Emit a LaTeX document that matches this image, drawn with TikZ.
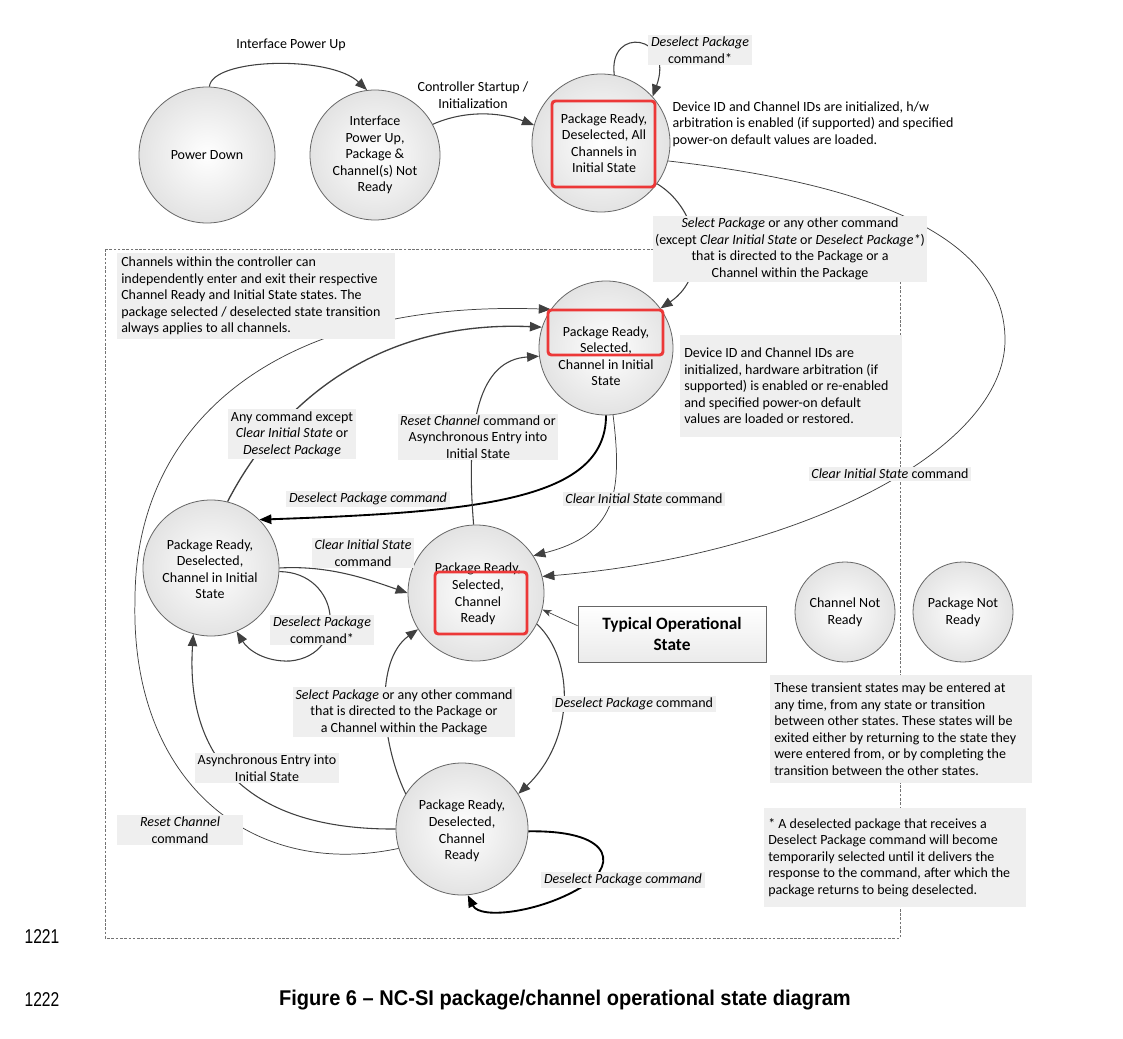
\documentclass[tikz,border=0pt]{standalone}
\usepackage{graphicx}
\usepackage{fontspec}
\setmainfont{Carlito}
\newfontfamily\arialfont{Liberation Sans}
\usetikzlibrary{arrows.meta}
\definecolor{redbox}{RGB}{236,56,56}
\definecolor{lblfill}{RGB}{239,239,239}
\definecolor{linegray}{RGB}{64,64,64}
\frenchspacing
\begin{document}
\begin{tikzpicture}[x=0.75pt,y=-0.75pt,
 stcircle/.style={circle,draw=black!60,line width=0.6pt,inner color=white,outer color=black!11,minimum size=#1,inner sep=0pt},
 sttext/.style={align=center,font=\fontsize{10.5}{12.4}\selectfont,inner sep=0pt},
 lbl/.style={align=center,font=\fontsize{10.5}{12.4}\selectfont,fill=lblfill,inner xsep=2pt,inner ysep=1.5pt},
 plainlbl/.style={align=center,font=\fontsize{10.5}{12.4}\selectfont,inner sep=1pt},
 note/.style={align=flush left,font=\fontsize{10.5}{12.4}\selectfont,fill=lblfill,inner xsep=3pt,inner ysep=3pt},
 arr/.style={draw=linegray,line width=0.8pt,-{Triangle[length=9pt,width=7pt]}},
 arrthin/.style={draw=linegray,line width=0.55pt,-{Triangle[length=9pt,width=7pt]}},
 arrbold/.style={draw=black,line width=1.4pt,-{Triangle[length=9pt,width=7pt]}},
 redb/.style={draw=redbox,line width=2.2pt,rounded corners=2.5pt}
]
\useasboundingbox (0,0) rectangle (1123,1038);
\fill[white] (0,0) rectangle (1123,1038);
% dashed frame
\draw[black!55,line width=0.5pt,dash pattern=on 2pt off 1.2pt] (105,249) rectangle (900,938);

% states
\node[stcircle=102pt] (c1) at (207,155) {};
\node[stcircle=97.5pt] (c2) at (375,155) {};
\node[stcircle=103.5pt] (c3) at (601,143) {};
\node[stcircle=100.5pt] (c4) at (606,348) {};
\node[stcircle=102pt] (c5) at (211,568) {};
\node[stcircle=102pt] (c6) at (476,593) {};
\node[stcircle=99pt] (c7) at (462,829) {};
\node[stcircle=75pt] (c8) at (845,612) {};
\node[stcircle=75pt] (c9) at (963,612) {};

% typical operational state box
\node[draw=black!60,line width=0.6pt,top color=white,bottom color=black!8,minimum width=141pt,minimum height=42pt,align=center,font=\fontsize{13}{16}\selectfont\bfseries] (typ) at (672,634) {Typical Operational\\State};

% transitions
\draw[arr] (c1.88) .. controls (212,58) and (330,55) .. (c2.97);
\draw[arr] (c2.28) .. controls (465,110) and (500,112) .. (c3.165);
\draw[arr] (c3.79) .. controls (608,25) and (675,35) .. (c3.42);
\draw[arr] (c3.-36) .. controls (700,210) and (710,275) .. (c4.36);
\draw[arrthin] (c3.-15) .. controls (880,185) and (1005,240) .. (1005,340) .. controls (1005,450) and (800,555) .. (c6.14);
\draw[arrbold] (c4.-90) .. controls (606,500) and (480,512) .. (c5.45);
\draw[arrthin] (c4.-84) .. controls (623,495) and (615,535) .. (c6.33);
\draw[arr] (c6.92) .. controls (465,420) and (480,360) .. (c4.187);
\draw[arr,line width=1pt] (c5.76) .. controls (280,400) and (380,320) .. (c4.162);
\draw[arrthin] (c7.197) .. controls (250,880) and (130,780) .. (135,600) .. controls (135,420) and (280,300) .. (c4.145);
\draw[arr] (c7.148) .. controls (380,740) and (375,660) .. (c6.212);
\draw[arr] (c6.-27) .. controls (575,660) and (575,740) .. (c7.32);
\draw[arr] (c7.180) .. controls (250,830) and (185,760) .. (c5.255);
\draw[arr] (c5.0) .. controls (330,565) and (370,580) .. (c6.180);
\draw[arr] (c5.-3) .. controls (340,572) and (350,655) .. (290,661) .. controls (265,662) and (248,650) .. (c5.-68);
\draw[arrbold] (c7.-2) .. controls (620,830) and (615,870) .. (580,888) .. controls (540,912) and (480,920) .. (c7.-85);
\draw[draw=linegray,line width=0.5pt,-{Stealth[length=7pt,width=5pt]}] (typ.175) -- (c6.-14);

% transition labels
\node[plainlbl] (l1) at (291,45) {Interface Power Up};
\node[plainlbl] (l2) at (473,95) {Controller Startup /\\Initialization};
\node[lbl] (l3) at (700,50) {\textit{Deselect Package}\\command*};
\node[lbl] (l4) at (790,249) {\textit{Select Package} or any other command\\(except \textit{Clear Initial State} or \textit{Deselect Package*})\\that is directed to the Package or a\\Channel within the Package};
\node[lbl] (l5) at (292,434) {Any command except\\\textit{Clear Initial State} or\\\textit{Deselect Package}};
\node[lbl] (l6) at (478,437) {\textit{Reset Channel} command or\\Asynchronous Entry into\\Initial State};
\node[lbl] (l7) at (368,499) {\textit{Deselect Package command}};
\node[lbl] (l8) at (644,499) {\textit{Clear Initial State} command};
\node[lbl] (l9) at (890,474) {\textit{Clear Initial State} command};
\node[lbl] (l10) at (363,553) {\textit{Clear Initial State}\\command};
\node[lbl] (l11) at (322,630) {\textit{Deselect Package}\\command*};
\node[lbl] (l12) at (404,712) {\textit{Select Package} or any other command\\that is directed to the Package or\\a Channel within the Package};
\node[lbl] (l13) at (634,704) {\textit{Deselect Package} command};
\node[lbl] (l14) at (267,768) {Asynchronous Entry into\\Initial State};
\node[lbl,minimum width=95pt] (l15) at (180,830) {\textit{Reset Channel}\\command};
\node[lbl] (l16) at (623,880) {\textit{Deselect Package command}};

% notes
\node[plainlbl,align=flush left,anchor=west] (n1) at (671,124) {Device ID and Channel IDs are initialized, h/w\\arbitration is enabled (if supported) and specified\\power-on default values are loaded.};
\node[note,anchor=west,text width=202pt] (n2) at (117,296) {Channels within the controller can\\independently enter and exit their respective\\Channel Ready and Initial State states. The\\package selected / deselected state transition\\always applies to all channels.};
\node[note,anchor=north west,text width=160pt,minimum height=76pt] (n3) at (680,335) {Device ID and Channel IDs are\\initialized, hardware arbitration (if\\supported) is enabled or re-enabled\\and specified power-on default\\values are loaded or restored.};
\node[note,anchor=north west,text width=190pt,minimum height=81pt] (n4) at (770,675) {These transient states may be entered at\\any time, from any state or transition\\between other states. These states will be\\exited either by returning to the state they\\were entered from, or by completing the\\transition between the other states.};
\node[note,anchor=north west,text width=190pt,minimum height=74pt] (n5) at (764,808) {* A deselected package that receives a\\Deselect Package command will become\\temporarily selected until it delivers the\\response to the command, after which the\\package returns to being deselected.};

% state texts
\node[sttext] (t1) at (207,155) {Power Down};
\node[sttext] (t2) at (375,155) {Interface\\Power Up,\\Package \&\\Channel(s) Not\\Ready};
\node[sttext] (t3) at (604,143) {Package Ready,\\Deselected, All\\Channels in\\Initial State};
\node[sttext] (t4) at (606,356) {Package Ready,\\Selected,\\Channel in Initial\\State};
\node[sttext] (t5) at (210,569) {Package Ready,\\Deselected,\\Channel in Initial\\State};
\node[sttext] (t6) at (478,594) {Package Ready,\\Selected,\\Channel\\Ready};
\node[sttext] (t7) at (462,831) {Package Ready,\\Deselected,\\Channel\\Ready};
\node[sttext] (t8) at (845,612) {Channel Not\\Ready};
\node[sttext] (t9) at (963,612) {Package Not\\Ready};

% highlight boxes
\draw[redb] (552,101) rectangle (655,187);
\draw[redb] (548,310) rectangle (663,355);
\draw[redb] (435,572) rectangle (527,634);

% page furniture
\node[font=\arialfont\fontsize{15}{17}\selectfont] (ln1) at (42,937) {\scalebox{0.78}[1]{1221}};
\node[font=\arialfont\fontsize{15}{17}\selectfont] (ln2) at (42,1000) {\scalebox{0.78}[1]{1222}};
\node[font=\arialfont\bfseries\fontsize{16}{18}\selectfont] (cap) at (565,1000) {\scalebox{0.94}[1]{Figure 6 – NC-SI package/channel operational state diagram}};
\end{tikzpicture}
\end{document}
